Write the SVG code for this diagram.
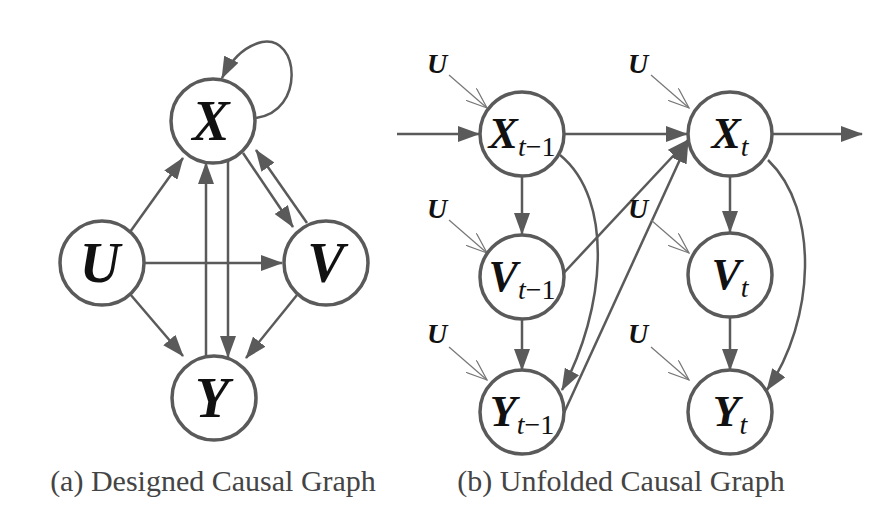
<svg xmlns="http://www.w3.org/2000/svg" width="888" height="526" viewBox="0 0 888 526">
<style>
.n{fill:#fff;stroke:#5a5a5a;stroke-width:3.5}
.e{fill:none;stroke:#5a5a5a;stroke-width:2.5}
.u{fill:none;stroke:#777;stroke-width:1.2}
.l{font-family:"Liberation Serif",serif;font-style:italic;fill:#111;text-anchor:middle}
.big{font-size:56px;font-weight:bold}
.m{font-size:44px;font-weight:bold}
.s{font-size:28px}
.cap{font-family:"Liberation Serif",serif;font-size:30px;fill:#444;text-anchor:middle}
</style>
<defs>
<marker id="a" markerWidth="22" markerHeight="16" refX="21" refY="8" orient="auto" markerUnits="userSpaceOnUse"><path d="M0,0 L22,8 L0,16 z" fill="#5a5a5a"/></marker>
<marker id="o" markerWidth="22" markerHeight="16" refX="21" refY="8" orient="auto" markerUnits="userSpaceOnUse"><path d="M0,0 L21,8 L0,16" fill="none" stroke="#777" stroke-width="1.2"/></marker>
</defs>
<g id="edges">
<path class="e" d="M256,118 C305,112 300,35 262,42 C245,46 232,58 222,78" marker-end="url(#a)"/>
<line class="e" x1="130" y1="232" x2="183" y2="158" marker-end="url(#a)"/>
<line class="e" x1="145" y1="263" x2="282" y2="263" marker-end="url(#a)"/>
<line class="e" x1="130" y1="294" x2="183" y2="356" marker-end="url(#a)"/>
<line class="e" x1="297" y1="295" x2="246" y2="358" marker-end="url(#a)"/>
<line class="e" x1="243" y1="153" x2="293" y2="227" marker-end="url(#a)"/>
<line class="e" x1="307" y1="223" x2="256" y2="150" marker-end="url(#a)"/>
<line class="e" x1="228" y1="162" x2="228" y2="357" marker-end="url(#a)"/>
<line class="e" x1="206" y1="357" x2="206" y2="163" marker-end="url(#a)"/>
<line class="e" x1="397" y1="134" x2="479" y2="134" marker-end="url(#a)"/>
<line class="e" x1="565" y1="134" x2="687" y2="134" marker-end="url(#a)"/>
<line class="e" x1="773" y1="134" x2="862" y2="134" marker-end="url(#a)"/>
<line class="e" x1="522" y1="177" x2="522" y2="234" marker-end="url(#a)"/>
<line class="e" x1="522" y1="320" x2="522" y2="370" marker-end="url(#a)"/>
<line class="e" x1="730" y1="177" x2="730" y2="232" marker-end="url(#a)"/>
<line class="e" x1="730" y1="318" x2="730" y2="370" marker-end="url(#a)"/>
<path class="e" d="M560,155 C615,200 605,310 562,390" marker-end="url(#a)"/>
<path class="e" d="M768,160 C820,210 815,320 767,390" marker-end="url(#a)"/>
<line class="e" x1="560" y1="277" x2="688" y2="140" marker-end="url(#a)"/>
<line class="e" x1="563" y1="415" x2="688" y2="142" marker-end="url(#a)"/>
<line class="u" x1="449" y1="75" x2="487" y2="108" marker-end="url(#o)"/>
<line class="u" x1="651" y1="75" x2="689" y2="108" marker-end="url(#o)"/>
<line class="u" x1="449" y1="220" x2="487" y2="253" marker-end="url(#o)"/>
<line class="u" x1="651" y1="220" x2="689" y2="253" marker-end="url(#o)"/>
<line class="u" x1="449" y1="347" x2="487" y2="380" marker-end="url(#o)"/>
<line class="u" x1="651" y1="347" x2="689" y2="380" marker-end="url(#o)"/>
</g>
<g id="X"><circle class="n" cx="213" cy="121" r="42"/><text class="l big" x="211" y="140">X</text></g>
<g id="U"><circle class="n" cx="102" cy="263" r="42"/><text class="l big" x="100" y="282">U</text></g>
<g id="V"><circle class="n" cx="326" cy="263" r="42"/><text class="l big" x="326" y="282">V</text></g>
<g id="Y"><circle class="n" cx="214" cy="398" r="42"/><text class="l big" x="212" y="417">Y</text></g>
<g id="Xt1"><circle class="n" cx="522" cy="134" r="42"/><text class="l" x="522" y="148"><tspan class="m">X</tspan><tspan class="s" dy="8">t</tspan><tspan class="s" font-style="normal">−1</tspan></text></g>
<g id="Vt1"><circle class="n" cx="522" cy="277" r="42"/><text class="l" x="522" y="291"><tspan class="m">V</tspan><tspan class="s" dy="8">t</tspan><tspan class="s" font-style="normal">−1</tspan></text></g>
<g id="Yt1"><circle class="n" cx="522" cy="412" r="42"/><text class="l" x="522" y="426"><tspan class="m">Y</tspan><tspan class="s" dy="8">t</tspan><tspan class="s" font-style="normal">−1</tspan></text></g>
<g id="Xt"><circle class="n" cx="730" cy="134" r="42"/><text class="l" x="730" y="148"><tspan class="m">X</tspan><tspan class="s" dy="8">t</tspan></text></g>
<g id="Vt"><circle class="n" cx="730" cy="275" r="42"/><text class="l" x="730" y="289"><tspan class="m">V</tspan><tspan class="s" dy="8">t</tspan></text></g>
<g id="Yt"><circle class="n" cx="730" cy="412" r="42"/><text class="l" x="730" y="426"><tspan class="m">Y</tspan><tspan class="s" dy="8">t</tspan></text></g>
<g id="ulabels" class="l" font-size="28" font-weight="bold">
<text x="437" y="73">U</text><text x="638" y="73">U</text>
<text x="437" y="218">U</text><text x="638" y="218">U</text>
<text x="437" y="343">U</text><text x="638" y="343">U</text>
</g>
<text class="cap" x="213" y="491">(a) Designed Causal Graph</text>
<text class="cap" x="621" y="491">(b) Unfolded Causal Graph</text>
</svg>
